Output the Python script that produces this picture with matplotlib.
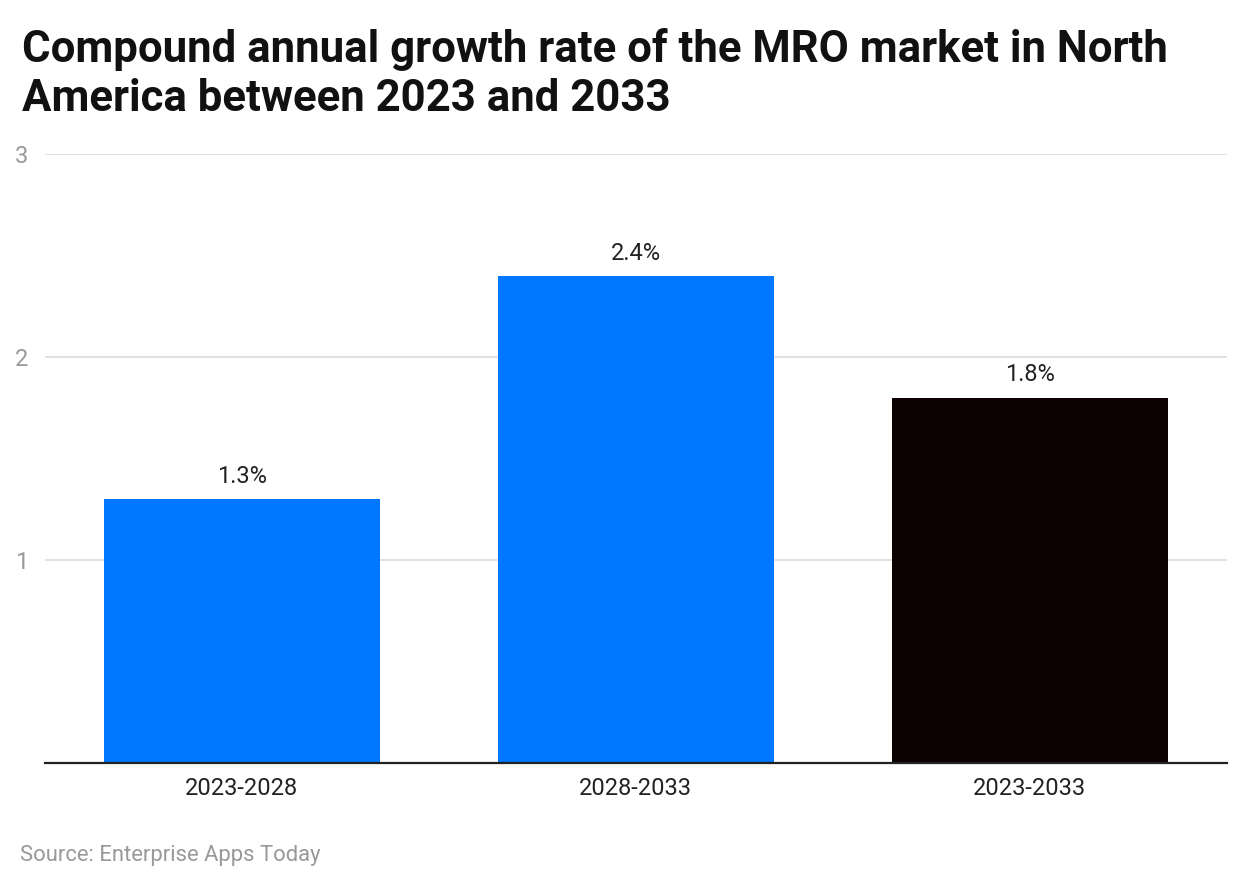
import matplotlib.pyplot as plt

# Chart data
periods = ['2023-2028', '2028-2033', '2023-2033']
cagr = [1.3, 2.4, 1.8]
bar_colors = ['#0077ff', '#0077ff', '#0c0000']
y_ticks = [1, 2, 3]

plt.rcParams['font.family'] = ['Roboto', 'DejaVu Sans']

fig = plt.figure(figsize=(12.48, 8.88), dpi=100)
ax = fig.add_axes([0.036, 0.1408, 0.947, 0.6858])

x = range(len(periods))
ax.bar(x, cagr, width=0.7, color=bar_colors, zorder=2)

# value labels above bars
for xi, v in zip(x, cagr):
    ax.text(xi, v + 0.055, f'{v}%', ha='center', va='bottom',
            fontsize=17, color='#222222')

ax.set_xlim(-0.5, 2.5)
ax.set_ylim(0, 3)
ax.set_xticks(list(x))
ax.set_xticklabels(periods, fontsize=17, color='#222222')
ax.set_yticks(y_ticks)
ax.set_yticklabels([str(t) for t in y_ticks], fontsize=17, color='#999999')
ax.tick_params(axis='x', length=0, pad=10)
ax.tick_params(axis='y', length=0, pad=12)

ax.grid(axis='y', color='#e2e2e2', linewidth=1.5, zorder=0)
for side in ['top', 'right', 'left']:
    ax.spines[side].set_visible(False)
ax.spines['bottom'].set_color('#222222')
ax.spines['bottom'].set_linewidth(1.6)
ax.spines['bottom'].set_zorder(3)

fig.text(0.0176, 0.969, 'Compound annual growth rate of the MRO market in North\nAmerica between 2023 and 2033',
         ha='left', va='top', fontsize=31.5, fontweight='bold', color='#111111',
         linespacing=1.22)
fig.text(0.016, 0.037, 'Source: Enterprise Apps Today', ha='left', va='center',
         fontsize=15.8, color='#999999')

fig.savefig('out.png', dpi=100)
